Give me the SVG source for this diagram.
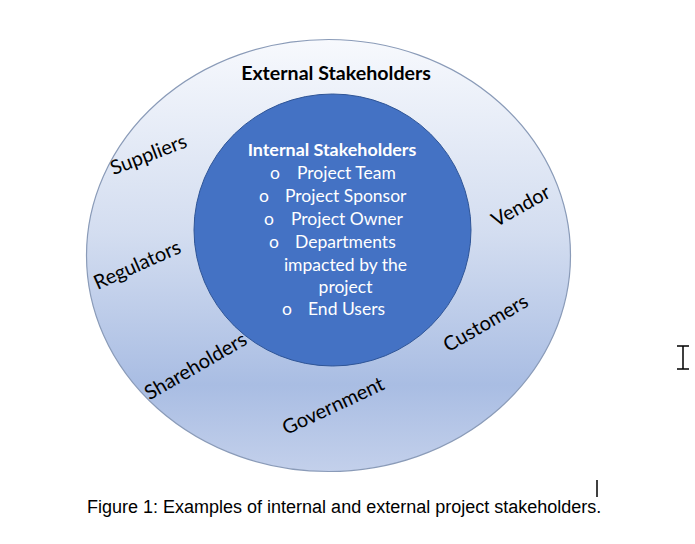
<svg xmlns="http://www.w3.org/2000/svg" width="695" height="544" viewBox="0 0 695 544">
<defs>
<linearGradient id="outerGrad" x1="0" y1="0" x2="0" y2="1">
<stop offset="0" stop-color="#f7f9fd"/>
<stop offset="0.45" stop-color="#d3ddf0"/>
<stop offset="0.8" stop-color="#a9bde3"/>
<stop offset="1" stop-color="#c3d0eb"/>
</linearGradient>
</defs>
<style>
.lbl{font-family:Lato,"Open Sans",sans-serif;font-size:20px;fill:#000}
.hdr{font-family:Lato,"Open Sans",sans-serif;font-size:19.6px;font-weight:bold;fill:#000}
.in{font-family:Lato,"Open Sans",sans-serif;font-size:17.5px;fill:#fff}
.inb{font-family:Lato,"Open Sans",sans-serif;font-size:17.9px;font-weight:bold;fill:#fff}
.cap{font-family:"Liberation Sans",Arial,sans-serif;font-size:18px;fill:#000}
.cur{stroke:#000;stroke-width:1.5;fill:none}
</style>
<rect width="695" height="544" fill="#fff"/>
<g id="external">
<ellipse cx="328.5" cy="255.5" rx="242" ry="216" fill="url(#outerGrad)" stroke="#8a9bb8" stroke-width="1.2"/>
<text class="hdr" x="336" y="80" text-anchor="middle">External Stakeholders</text>
<text class="lbl" transform="translate(151,161) rotate(-21)" text-anchor="middle">Suppliers</text>
<text class="lbl" transform="translate(140,271) rotate(-24)" text-anchor="middle">Regulators</text>
<text class="lbl" transform="translate(199,372) rotate(-30)" text-anchor="middle">Shareholders</text>
<text class="lbl" transform="translate(336,412) rotate(-25)" text-anchor="middle">Government</text>
<text class="lbl" transform="translate(489,329) rotate(-30)" text-anchor="middle">Customers</text>
<text class="lbl" transform="translate(524,212) rotate(-29)" text-anchor="middle">Vendor</text>
</g>
<g id="internal">
<ellipse cx="332.5" cy="230" rx="138.5" ry="136" fill="#4472c4" stroke="#2f5597" stroke-width="1"/>
<text class="inb" x="332" y="156" text-anchor="middle">Internal Stakeholders</text>
<text class="in" x="275" y="179" text-anchor="middle">o</text>
<text class="in" x="297" y="179">Project Team</text>
<text class="in" x="264" y="202" text-anchor="middle">o</text>
<text class="in" x="285" y="202">Project Sponsor</text>
<text class="in" x="269" y="225" text-anchor="middle">o</text>
<text class="in" x="291" y="225">Project Owner</text>
<text class="in" x="274" y="248" text-anchor="middle">o</text>
<text class="in" x="295" y="248">Departments</text>
<text class="in" x="345.5" y="271" text-anchor="middle">impacted by the</text>
<text class="in" x="345.5" y="293" text-anchor="middle">project</text>
<text class="in" x="287" y="315" text-anchor="middle">o</text>
<text class="in" x="308" y="315">End Users</text>
</g>
<g id="caption">
<text class="cap" x="87" y="513">Figure 1: Examples of internal and external project stakeholders.</text>
</g>
<g id="connectors"></g>
<g id="cursors">
<path class="cur" d="M597 480V497"/>
<path class="cur" d="M683 346V369M677 346H689M677 369H689"/>
</g>
</svg>
